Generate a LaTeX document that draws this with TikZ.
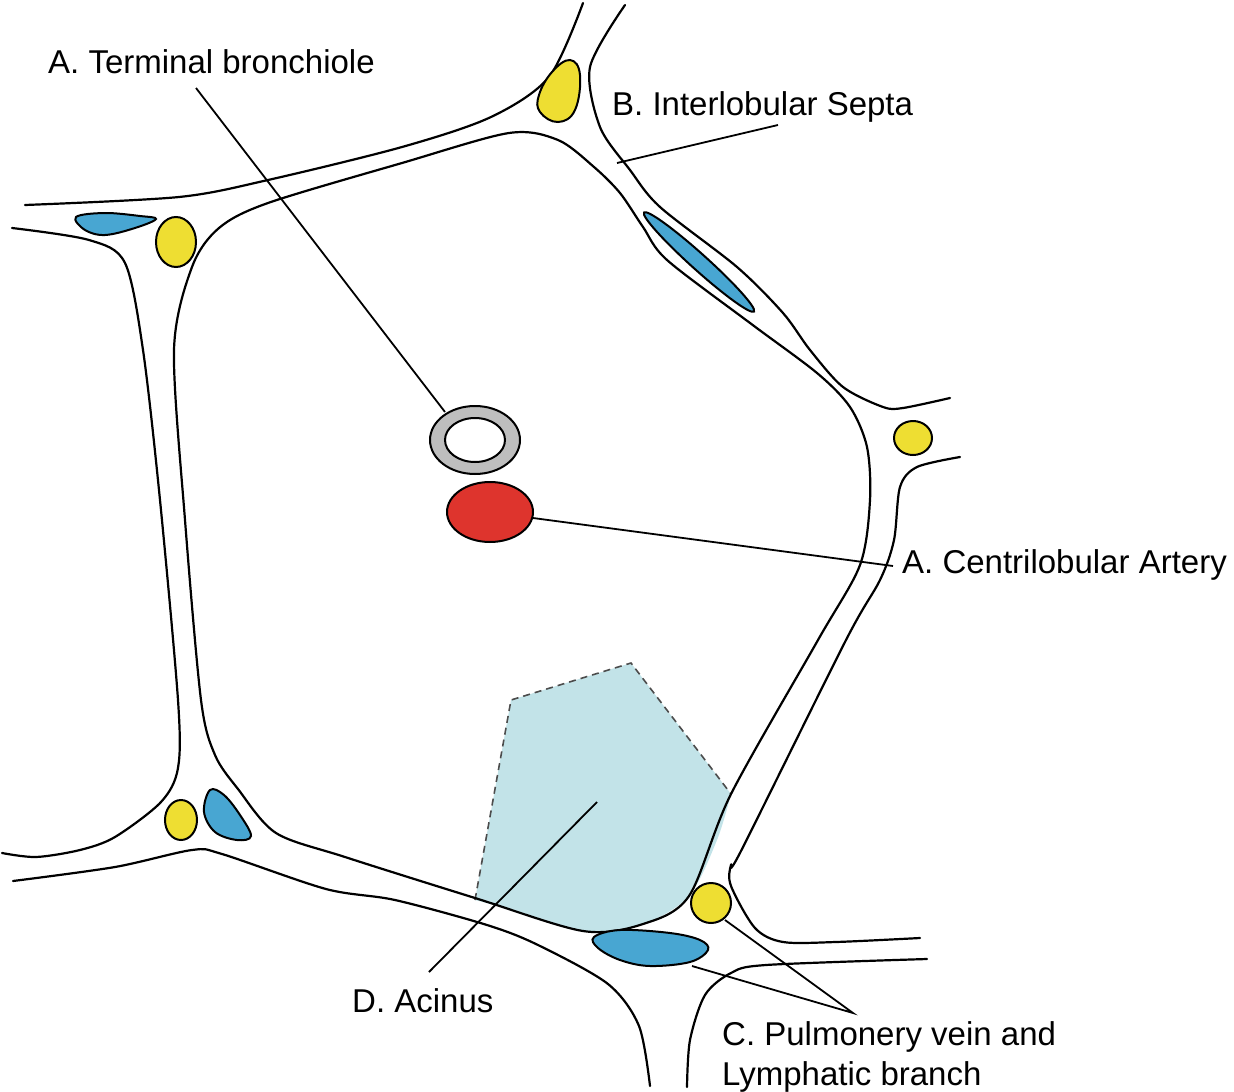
\documentclass[tikz,border=0pt]{standalone}
\usepackage{fontspec}
\setmainfont{Liberation Sans}
\begin{document}
\begin{tikzpicture}[x=1pt,y=-1pt,
  wall/.style={line width=2.2pt,line cap=round,line join=round},
  lead/.style={line width=1.8pt},
  blob/.style={line width=2pt},
  lbl/.style={font=\fontsize{33}{40}\selectfont,inner sep=0pt,anchor=base west}]
\definecolor{yel}{RGB}{238,222,50}
\definecolor{blu}{RGB}{72,166,210}
\definecolor{acin}{RGB}{194,227,232}
\definecolor{artred}{RGB}{222,52,45}
\definecolor{ringgray}{RGB}{190,190,190}
\useasboundingbox (0,0) rectangle (1234,1092);
% acinus
\fill[acin] plot[smooth,tension=0.5] coordinates {(731,794)(717,840)(689,896)(643,924)(583,931)(520,912)(475,900)} -- (511,700) -- (631,663) -- cycle;
\draw[line width=1.6pt,dashed,dash pattern=on 7pt off 5pt,black!70] (475,900) -- (511,700) -- (631,663) -- (731,794);
% lobule loop
\draw[wall] plot[smooth cycle,tension=0.5] coordinates {(174,350)(192,267)(219,228)(268,203)(402,163)(509,133)(558,140)(594,167)(620,193)(643,227)(667,260)(750,323)(817,373)(850,407)(867,447)(870,500)(860,565)(818,640)(731,794)(689,896)(643,924)(583,931)(475,898)(345,857)(276,833)(238,789)(215,755)(201,700)(185,520)};
% outer lines
\draw[wall] plot[smooth,tension=0.5] coordinates {(25,205)(179,197)(268,180)(402,147)(491,117)(549,77)(583,3)};
\draw[wall] plot[smooth,tension=0.5] coordinates {(625,5)(590,67)(600,127)(630,170)(660,207)(737,267)(783,313)(810,350)(843,387)(883,407)(903,408)(950,398)};
\draw[wall] plot[smooth,tension=0.5] coordinates {(12,228)(89,240)(125,263)(143,350)(160,500)(178,700)(178,768)(161,802)(115,837)(80,850)(36,857)(2,853)};
\draw[wall] plot[smooth,tension=0.5] coordinates {(960,457)(917,467)(900,487)(894,540)(880,580)(846,640)(741,851)(731,865)(731,886)(755,928)(783,942)(836,942)(920,938)};
\draw[wall] plot[smooth,tension=0.5] coordinates {(13,881)(115,867)(192,850)(222,854)(326,889)(395,900)(487,925)(538,945)(608,984)(639,1026)(650,1086)};
\draw[wall] plot[smooth,tension=0.5] coordinates {(687,1087)(690,1040)(705,995)(731,973)(766,965)(927,959)};
% blobs
\draw[blob,fill=blu] plot[smooth cycle,tension=0.6] coordinates {(76,217)(105,213)(140,216)(156,219)(135,228)(105,235)(85,230)};
\draw[blob,fill=yel] (176,242) ellipse [x radius=20,y radius=25];
\draw[blob,fill=yel] plot[smooth cycle,tension=0.7] coordinates {(570,60)(580,75)(575,110)(558,122)(540,112)(539,95)(552,72)};
\draw[blob,fill=blu,rotate around={-42:(699,262)}] (699,262) ellipse [x radius=74,y radius=8];
\draw[blob,fill=yel] (913,438) ellipse [x radius=19,y radius=17];
\draw[blob,fill=yel] (181,820) ellipse [x radius=16,y radius=20];
\draw[blob,fill=blu] plot[smooth cycle,tension=0.6] coordinates {(210,790)(224,795)(240,815)(251,836)(237,840)(215,832)(204,812)};
\draw[blob,fill=yel] (711,903) ellipse [x radius=20,y radius=20];
\draw[blob,fill=blu] plot[smooth cycle,tension=0.6] coordinates {(594,937)(620,930)(670,933)(700,940)(708,950)(690,962)(650,966)(620,960)(598,948)};
% bronchiole and artery
\draw[blob,fill=ringgray] (475,440) ellipse [x radius=45,y radius=34];
\draw[blob,fill=white] (475,440) ellipse [x radius=30,y radius=22];
\draw[blob,fill=artred] (490,512) ellipse [x radius=43,y radius=30];
% labels
\node[lbl] (tb) at (48,73) {A. Terminal bronchiole};
\node[lbl] (is) at (612,115) {B. Interlobular Septa};
\node[lbl] (ca) at (902,573) {A. Centrilobular Artery};
\node[lbl] (ac) at (352,1012) {D. Acinus};
\node[lbl] (pv) at (722,1045) {C. Pulmonery vein and};
\node[lbl] (pv2) at (722,1085) {Lymphatic branch};
% leaders
\coordinate (tb1) at (196,88); \coordinate (tb2) at (445,412);
\draw[lead] (tb1) -- (tb2);
\coordinate (is1) at (778,125); \coordinate (is2) at (617,163);
\draw[lead] (is1) -- (is2);
\coordinate (ca1) at (533,518); \coordinate (ca2) at (893,566);
\draw[lead] (ca1) -- (ca2);
\coordinate (ac1) at (597,802); \coordinate (ac2) at (429,972);
\draw[lead] (ac1) -- (ac2);
\coordinate (pv0) at (853,1013); \coordinate (pvy) at (725,920); \coordinate (pvb) at (692,966);
\draw[lead] (pvy) -- (pv0) -- (pvb);
\end{tikzpicture}
\end{document}
